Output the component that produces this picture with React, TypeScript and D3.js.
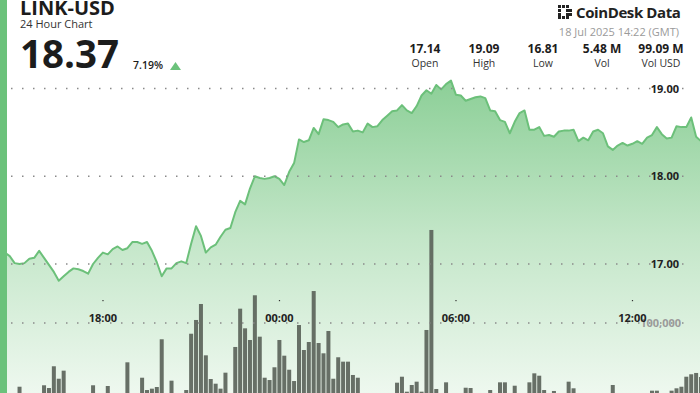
// @ts-nocheck
import * as d3 from "d3";
import React from "react";

const W = 700;
const H = 393;

// 10-minute samples, 17 Jul 14:40 -> 18 Jul 14:20 (GMT)
const priceValues = [
  17.13, 17.09, 17.01, 17.0, 17.01, 17.06, 17.07, 17.15, 17.07, 16.99,
  16.91, 16.81, 16.86, 16.91, 16.95, 16.94, 16.92, 16.89, 17.0, 17.07,
  17.13, 17.11, 17.17, 17.2, 17.16, 17.18, 17.25, 17.25, 17.23, 17.25,
  17.15, 17.02, 16.86, 16.95, 16.95, 17.01, 17.03, 17.01, 17.23, 17.43,
  17.32, 17.13, 17.19, 17.22, 17.31, 17.39, 17.41, 17.59, 17.72, 17.68,
  17.86, 18.0, 17.98, 17.97, 17.98, 18.0, 17.97, 17.9, 18.05, 18.15,
  18.42, 18.39, 18.41, 18.55, 18.48, 18.65, 18.64, 18.62, 18.56, 18.59,
  18.6, 18.51, 18.52, 18.5, 18.6, 18.56, 18.57, 18.64, 18.69, 18.74,
  18.75, 18.81, 18.75, 18.72, 18.8, 18.92, 18.98, 18.94, 19.04, 18.99,
  19.05, 19.09, 18.93, 18.92, 18.86, 18.88, 18.9, 18.91, 18.89, 18.75,
  18.74, 18.64, 18.62, 18.49, 18.62, 18.72, 18.75, 18.53, 18.53, 18.56,
  18.46, 18.47, 18.45, 18.51, 18.52, 18.52, 18.53, 18.4, 18.44, 18.41,
  18.51, 18.53, 18.49, 18.34, 18.3, 18.35, 18.38, 18.35, 18.37, 18.4,
  18.37, 18.44, 18.47, 18.56, 18.48, 18.43, 18.44, 18.57, 18.56, 18.56,
  18.67, 18.45, 18.4,
];

const volumeValues = [
  2000, 1500, 2000, 11500, 1500, 2000, 1000, 2500, 13500, 9700,
  39900, 22600, 33800, 2000, 1500, 1000, 2000, 1500, 13500, 2000,
  1500, 12500, 2000, 1000, 2500, 45400, 1500, 2000, 24000, 6900,
  8800, 11100, 77400, 2000, 19900, 1500, 2500, 6900, 85100, 104200,
  126400, 55100, 22200, 15700, 8800, 31000, 2500, 66700, 119900, 92600,
  76400, 138500, 81000, 24000, 20800, 38500, 76400, 54600, 35100, 19400,
  97200, 62500, 73600, 144400, 72200, 57900, 88900, 22600, 52400, 46300,
  46300, 27800, 24000, 2500, 2000, 1500, 2000, 2500, 1500, 2000,
  17100, 25400, 4600, 13900, 18500, 4600, 90300, 229200, 8300, 2500,
  17600, 2000, 2500, 1500, 10100, 9700, 2000, 1500, 2500, 6900,
  2000, 17600, 17600, 2500, 12900, 2000, 1500, 17600, 30100, 26800,
  6900, 2000, 5600, 2500, 1500, 18500, 9300, 2000, 1500, 2500,
  2000, 1500, 2000, 2500, 13900, 2000, 1500, 2500, 2000, 1500,
  2000, 2500, 6000, 6000, 2000, 1500, 6000, 9300, 11500, 25400,
  28800, 30600, 25000,
];

const priceTicks = [17, 18, 19];
const volumeTicks = [100000];

const statValues = ["17.14", "19.09", "16.81", "5.48 M", "99.09 M"];
const statLabels = ["Open", "High", "Low", "Vol", "Vol USD"];

const times = d3.utcMinute
  .every(10)
  .range(new Date(Date.UTC(2025, 6, 17, 14, 40)), new Date(Date.UTC(2025, 6, 18, 14, 21)));

const data = times.map((t, i) => ({ t, price: priceValues[i], vol: volumeValues[i] }));

const FONT = "'Open Sans', 'Noto Sans', sans-serif";

export default function App() {
  const x = d3.scaleUtc(
    [new Date(Date.UTC(2025, 6, 17, 14, 22)), new Date(Date.UTC(2025, 6, 18, 14, 22))],
    [-4, 702]
  );
  const y = d3.scaleLinear([17, 19], [264, 88.5]);
  const yv = d3.scaleLinear([0, 100000], [395, 323]);

  const line = d3
    .line()
    .x((d) => x(d.t))
    .y((d) => y(d.price));
  const area = d3
    .area()
    .x((d) => x(d.t))
    .y0(H)
    .y1((d) => y(d.price));

  const timeTicks = x.ticks(d3.utcHour.every(6));
  const fmt = d3.utcFormat("%H:%M");

  const gridDash = "1.5 9.5";

  return (
    <svg
      width={W}
      height={H}
      style={{ position: "absolute", left: 0, top: 0, background: "#fff" }}
      fontFamily={FONT}
    >
      <defs>
        <linearGradient id="areaFill" gradientUnits="userSpaceOnUse" x1="0" y1="80" x2="0" y2={H}>
          <stop offset="0" stopColor="#8ccf97" />
          <stop offset="0.5" stopColor="#c3e6c8" />
          <stop offset="1" stopColor="#eef8ef" />
        </linearGradient>
      </defs>

      <path d={area(data)} fill="url(#areaFill)" />

      {/* volume bars */}
      <g fill="#596158" fillOpacity="0.9">
        {data.map((d, i) => (
          <rect key={i} x={x(d.t) - 2} y={yv(d.vol)} width={4} height={Math.max(0, 395 - yv(d.vol))} />
        ))}
      </g>

      <path d={line(data)} fill="none" stroke="#6cc07a" strokeWidth="2" strokeLinejoin="round" />

      {/* grid */}
      <g stroke="#8a8a8a" strokeWidth="1.3" strokeDasharray={gridDash}>
        {priceTicks.map((v) => (
          <line key={v} x1={11} x2={690} y1={y(v)} y2={y(v)} />
        ))}
        {volumeTicks.map((v) => (
          <line key={v} x1={11} x2={690} y1={yv(v)} y2={yv(v)} />
        ))}
      </g>
      <g fontSize="11" fontWeight="700" fill="#222" textAnchor="end">
        {priceTicks.map((v) => (
          <text key={v} x={679} y={y(v) + 4}>
            {v.toFixed(2)}
          </text>
        ))}
      </g>
      <g fontSize="11" fontWeight="700" fill="#9a9a9a" textAnchor="end">
        {volumeTicks.map((v) => (
          <text key={v} x={681} y={yv(v) + 4}>
            {d3.format(",")(v)}
          </text>
        ))}
      </g>

      {/* time axis */}
      <g fontSize="11" fontWeight="700" fill="#222" textAnchor="middle">
        {timeTicks.map((t) => (
          <g key={+t} transform={`translate(${x(t)},0)`}>
            <rect x={-0.5} y={300} width={1.2} height={1.2} fill="#333" />
            <text y={322}>{fmt(t)}</text>
          </g>
        ))}
      </g>

      {/* left accent bar */}
      <rect x={0} y={0} width={7} height={H} fill="#6bc27b" />

      {/* header */}
      <text x={20} y={15} fontSize="20" fontWeight="700" fill="#1c1c1c">
        LINK-USD
      </text>
      <text x={20} y={28} fontSize="11" fill="#333">
        24 Hour Chart
      </text>
      <text x={20} y={68} fontSize="38.5" fontWeight="700" fill="#1c1c1c">
        18.37
      </text>
      <text x={133} y={69} fontSize="10.5" fontWeight="600" fill="#1c1c1c">
        7.19%
      </text>
      <path d="M170,70 L175.5,62 L181,70 Z" fill="#6bc27b" />

      {/* logo */}
      <g fill="#222">
        {[
          [0, 0], [4, 0], [8, 0], [0, 4], [0, 8], [0, 11], [4, 11], [8, 11], [8, 4], [8, 8], [11, 4], [11, 8],
        ].map(([dx, dy], i) => (
          <rect key={i} x={558 + dx} y={5 + dy} width={3} height={3} />
        ))}
      </g>
      <text x={576} y={18} fontSize="15" fontWeight="700" fill="#222" letterSpacing="-0.4">
        CoinDesk Data
      </text>
      <text x={679} y={36} fontSize="11" fill="#9a9a9a" textAnchor="end">
        18 Jul 2025 14:22 (GMT)
      </text>

      {/* stats */}
      {statValues.map((v, i) => (
        <g key={v} transform={`translate(${425 + i * 59},0)`} textAnchor="middle">
          <text y={53} fontSize="12" fontWeight="700" fill="#1c1c1c">
            {v}
          </text>
          <text y={67} fontSize="10.5" fill="#333">
            {statLabels[i]}
          </text>
        </g>
      ))}
    </svg>
  );
}
